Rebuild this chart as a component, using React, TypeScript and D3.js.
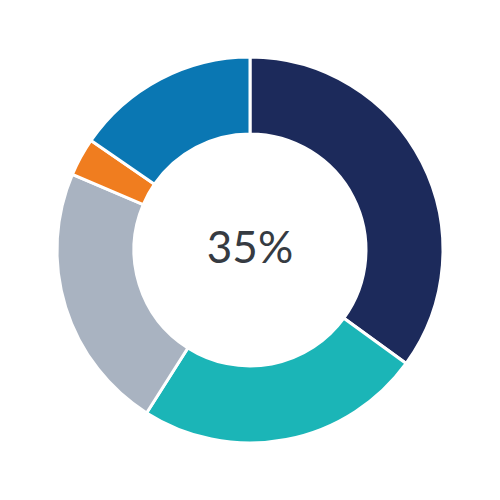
import * as d3 from "d3";

const width = 500;
const height = 500;

const centerX = 250;
const centerY = 250;
const outerRadius = 193;
const innerRadius = 116;

// slices clockwise from 12 o'clock
const sliceNames = ["A", "B", "C", "D", "E"];
const sliceValues = [35, 24, 22.4, 3.2, 15.4];
const sliceColors = ["#1c2a5b", "#1bb5b7", "#a9b3c1", "#f07d1f", "#0a77b3"];
const centerLabel = "35%";

type Slice = { name: string; value: number; color: string };

export default function App() {
  const data: Slice[] = sliceNames.map((name, i) => ({
    name,
    value: sliceValues[i],
    color: sliceColors[i],
  }));

  const pie = d3
    .pie<Slice>()
    .value((d) => d.value)
    .sort(null);

  const arc = d3
    .arc<d3.PieArcDatum<Slice>>()
    .innerRadius(innerRadius)
    .outerRadius(outerRadius);

  const arcs = pie(data);

  return (
    <svg
      width={width}
      height={height}
      viewBox={`0 0 ${width} ${height}`}
      style={{ display: "block", margin: "-8px" }}
    >
      <rect width={width} height={height} fill="#ffffff" />
      <g transform={`translate(${centerX},${centerY})`}>
        {arcs.map((a) => (
          <path
            key={a.data.name}
            d={arc(a) ?? ""}
            fill={a.data.color}
            stroke="#ffffff"
            strokeWidth={3}
            strokeLinejoin="miter"
          />
        ))}
        <text
          x={0}
          y={12.5}
          textAnchor="middle"
          fill="#363b42"
          style={{ fontFamily: "Lato, 'Open Sans', sans-serif", fontSize: "44px" }}
        >
          {centerLabel}
        </text>
      </g>
    </svg>
  );
}
